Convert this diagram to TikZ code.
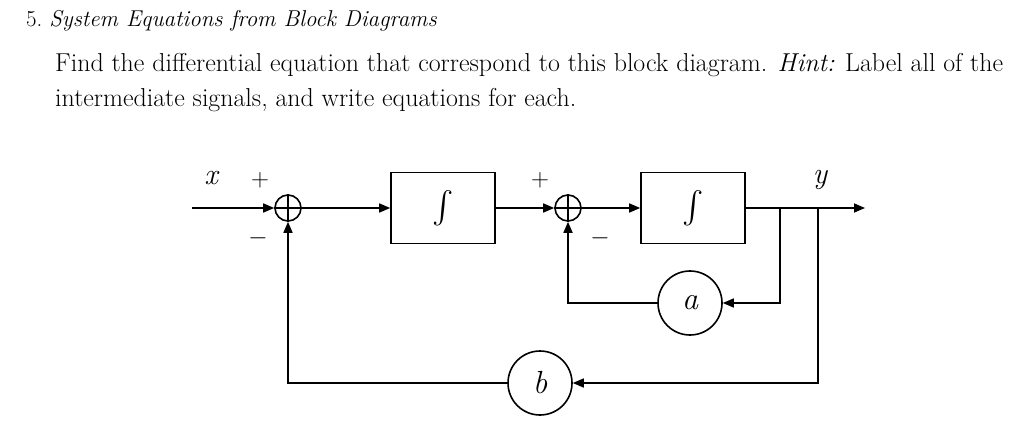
\documentclass[tikz,border=0pt]{standalone}
\usetikzlibrary{arrows.meta}
\usepackage{graphicx}
\begin{document}
\begin{tikzpicture}[x=1pt,y=-1pt,
  ln/.style={line width=1.6pt},
  arr/.style={ln,-{Triangle[length=11pt,width=9pt]}},
  sum/.style={circle,draw,line width=1.6pt,minimum size=26pt,inner sep=0pt},
  blk/.style={draw,line width=1.6pt,minimum width=104pt,minimum height=71pt,inner sep=0pt},
  gain/.style={circle,draw,line width=1.6pt,minimum size=64pt,inner sep=0pt,font=\fontsize{32}{32}\selectfont\itshape},
  lbl/.style={font=\fontsize{30}{30}\selectfont},
  txt/.style={anchor=base west,inner sep=0pt}]
\useasboundingbox (0,0) rectangle (1024,435);
\node[txt,font=\fontsize{22.9}{23}\selectfont] (t1) at (26,27) {5.\ \textit{System Equations from Block Diagrams}};
\node[txt,font=\fontsize{25.9}{26}\selectfont] (t2) at (55,72) {Find the differential equation that correspond to this block diagram. \textit{Hint:} Label all of the};
\node[txt,font=\fontsize{25.9}{26}\selectfont] (t3) at (55,107) {intermediate signals, and write equations for each.};
\node[sum] (s1) at (288,208) {};
\draw[line width=1.3pt] (s1.north)--(s1.south) (s1.west)--(s1.east);
\node[sum] (s2) at (568,208) {};
\draw[line width=1.3pt] (s2.north)--(s2.south) (s2.west)--(s2.east);
\node[blk] (b1) at (443,208) {\scalebox{3.2}{$\int$}};
\node[blk] (b2) at (693,208) {\scalebox{3.2}{$\int$}};
\node[gain] (ga) at (690,303) {a};
\node[gain] (gb) at (540,383) {b};
\coordinate (in) at (192,208);
\coordinate (out) at (865,208);
\coordinate (ja) at (780,208);
\coordinate (jb) at (818,208);
\draw[arr] (in)--(s1.west);
\draw[arr] (s1.east)--(b1.west);
\draw[arr] (b1.east)--(s2.west);
\draw[arr] (s2.east)--(b2.west);
\draw[arr] (b2.east)--(out);
\draw[arr] (ja)|-(ga.east);
\draw[arr] (ga.west)-|(s2.south);
\draw[arr] (jb)|-(gb.east);
\draw[arr] (gb.west)-|(s1.south);
\node[lbl,font=\fontsize{30}{30}\selectfont\itshape] (lx) at (211,178) {x};
\node[lbl] (p1) at (260,180) {$+$};
\node[lbl] (m1) at (258,238) {$-$};
\node[lbl] (p2) at (540,180) {$+$};
\node[lbl] (m2) at (600,238) {$-$};
\node[lbl,font=\fontsize{30}{30}\selectfont\itshape] (ly) at (820,180) {y};
\end{tikzpicture}
\end{document}
